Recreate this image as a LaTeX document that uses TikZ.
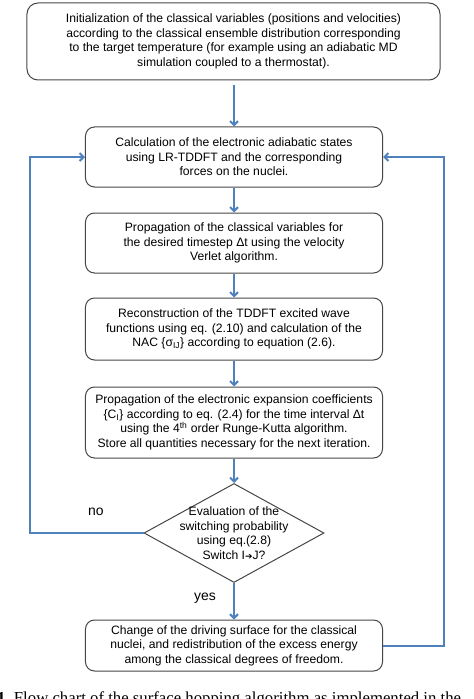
\documentclass[tikz,border=0pt]{standalone}
\usepackage{fontspec}
\setmainfont{Liberation Sans}
\newfontfamily\capfont{Liberation Serif}
\newfontfamily\symfont{DejaVu Sans}
\usetikzlibrary{shapes.geometric,arrows.meta}

\definecolor{flowblue}{RGB}{79,129,189}
\definecolor{boxgray}{RGB}{70,70,70}

\tikzset{
  stepbox/.style={draw=boxgray, line width=1bp, rounded corners=9bp, align=center,
    minimum width=297bp, inner sep=2bp, font=\fontsize{12.2}{14.6}\selectfont},
  decision/.style={diamond, draw=boxgray, line width=1bp, minimum width=180bp,
    minimum height=99bp, inner sep=0pt},
  flow/.style={draw=flowblue, line width=2bp, -{Straight Barb[length=4bp,width=8bp]}},
  answer/.style={font=\fontsize{14}{16}\selectfont}
}

\begin{document}
\begin{tikzpicture}[x=1bp,y=-1bp]
 \useasboundingbox (0,0) rectangle (474,699);
 \clip (0,0) rectangle (474,699);

 % boxes of the flow chart
 \node[stepbox, minimum width=413bp, minimum height=77bp, rounded corners=11bp] (init) at (233.5,41.5)
  {Initialization of the classical variables (positions and velocities)\\
   according to the classical ensemble distribution corresponding\\
   to the target temperature (for example using an adiabatic MD\\
   simulation coupled to a thermostat).};
 \node[stepbox, minimum height=60bp] (calc) at (234,157)
  {Calculation of the electronic adiabatic states\\
   using LR-TDDFT and the corresponding\\
   forces on the nuclei.};
 \node[stepbox, minimum height=60bp] (verlet) at (234,243)
  {Propagation of the classical variables for\\
   the desired timestep {\char"0394}t using the velocity\\
   Verlet algorithm.};
 \node[stepbox, minimum height=62bp] (nac) at (234,329)
  {Reconstruction of the TDDFT excited wave\\
   functions using eq. (2.10) and calculation of the\\
   NAC \{σ\textsubscript{IJ}\} according to equation (2.6).};
 \node[stepbox, minimum height=71bp] (coef) at (234,422.5)
  {Propagation of the electronic expansion coefficients\\
   \{C\textsubscript{I}\} according to eq. (2.4) for the time interval {\char"0394}t\\
   using the 4\textsuperscript{th} order Runge-Kutta algorithm.\\
   Store all quantities necessary for the next iteration.};
 \node[decision] (eval) at (234,533) {};
 \node[align=center, font=\fontsize{12.2}{14.6}\selectfont] (evaltext) at (eval.center)
  {Evaluation of the\\ switching probability\\ using eq.(2.8)\\ Switch I{\symfont\fontsize{9}{10}\selectfont ➔}J?};
 \node[stepbox, minimum height=51bp] (change) at (234,645.5)
  {Change of the driving surface for the classical\\
   nuclei, and redistribution of the excess energy\\
   among the classical degrees of freedom.};

 % arrows
 \draw[flow, shorten <=5bp] (init.south -| calc.north) -- (calc.north);
 \draw[flow] (calc) -- (verlet);
 \draw[flow] (verlet) -- (nac);
 \draw[flow] (nac) -- (coef);
 \draw[flow] (coef) -- (eval);
 \draw[flow] (eval) -- (change);
 \coordinate (nobend) at (30,533);
 \coordinate (yesbend) at (444,645.5);
 \draw[flow] (eval.west) -- (nobend) |- (calc.west);
 \draw[flow] (change.east) -- (yesbend) |- (calc.east);
 \node[answer] (no) at (96,512) {no};
 \node[answer] (yes) at (205,598) {yes};

 % caption, cut off by the page
 \node[anchor=north west, inner sep=0pt, font=\capfont\fontsize{16.8}{20}\selectfont] (caption) at (-3,692)
  {\textbf{1}\ \ Flow chart of the surface hopping algorithm as implemented in the};
\end{tikzpicture}
\end{document}
